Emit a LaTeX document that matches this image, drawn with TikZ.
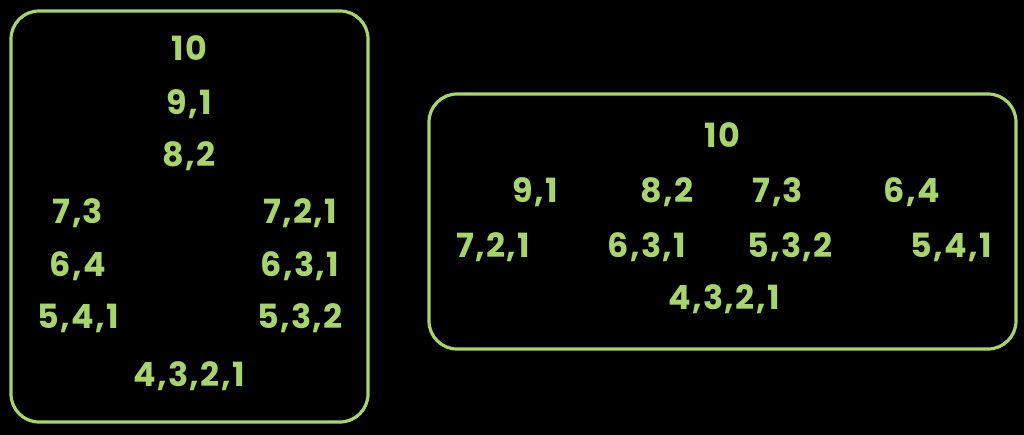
\documentclass[tikz,border=0pt]{standalone}
\usepackage{fontspec}
\setmainfont{Poppins}[LetterSpace=4]
\definecolor{lg}{RGB}{168,212,110}
\begin{document}
\begin{tikzpicture}[x=1bp,y=-1bp,
  box/.style={draw=lg,line width=3.2bp,rounded corners=28bp},
  num/.style={text=lg,font=\fontsize{33.5}{33.5}\selectfont\bfseries,inner sep=0pt,anchor=center}]
\fill[black] (0,0) rectangle (1024,435);
\useasboundingbox (0,0) rectangle (1024,435);
\draw[box] (11,11) rectangle (368,422);
\draw[box] (429,94) rectangle (1016,349);
% left box
\node[num] (l10) at (189,48) {10};
\node[num] (l91) at (189,104) {9,1};
\node[num] (l82) at (189,156) {8,2};
\node[num] (l73) at (78,213) {7,3};
\node[num] (l721) at (300,213) {7,2,1};
\node[num] (l64) at (78,266) {6,4};
\node[num] (l631) at (300,266) {6,3,1};
\node[num] (l541) at (78,318) {5,4,1};
\node[num] (l532) at (300,318) {5,3,2};
\node[num] (l4321) at (189,376) {4,3,2,1};
% right box
\node[num] (r10) at (722,135) {10};
\node[num] (r91) at (535,192) {9,1};
\node[num] (r82) at (667,192) {8,2};
\node[num] (r73) at (778,192) {7,3};
\node[num] (r64) at (912,192) {6,4};
\node[num] (r721) at (493,247) {7,2,1};
\node[num] (r631) at (647,247) {6,3,1};
\node[num] (r532) at (790,247) {5,3,2};
\node[num] (r541) at (951,247) {5,4,1};
\node[num] (r4321) at (724,299) {4,3,2,1};
\end{tikzpicture}
\end{document}
